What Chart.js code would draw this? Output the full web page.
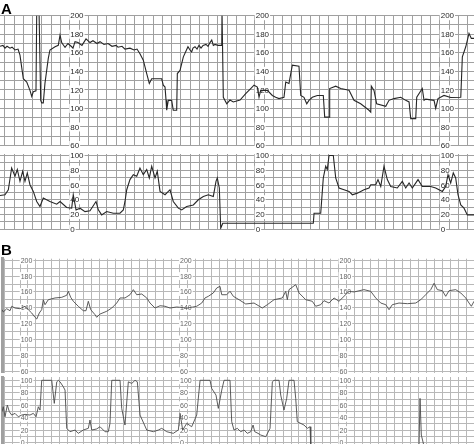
<!DOCTYPE html>
<html><head><meta charset="utf-8">
<script src="https://cdn.jsdelivr.net/npm/chart.js@4.4.0/dist/chart.umd.min.js"></script>
<style>
html,body{margin:0;padding:0;background:#fff;}
#wrap{position:relative;width:474px;height:444px;overflow:hidden;background:#fff;}
canvas{position:absolute;left:0;top:0;}
.lab{position:absolute;font:bold 15px "Liberation Sans",Arial,sans-serif;color:#000;line-height:15px;}
</style></head><body>
<div id="wrap">
<canvas id="c1" width="474" height="444" style="width:474px;height:444px"></canvas>
<canvas id="c2" width="474" height="444" style="width:474px;height:444px"></canvas>
<canvas id="c3" width="474" height="444" style="width:474px;height:444px"></canvas>
<canvas id="c4" width="474" height="444" style="width:474px;height:444px"></canvas>
<div class="lab" style="left:1px;top:1px">A</div>
<div class="lab" style="left:1px;top:242px">B</div>
</div>
<script>
// ---------- DATA (time in chart-grid squares, values in bpm / mmHg) ----------
const fhrTicks = [200,180,160,140,120,100,80,60];
const ucTicks = [100,80,60,40,20,0];

// Panel A - fetal heart rate
const aFhrT = [-0.54,-0.22,0,0.22,0.54,0.76,1.08,1.41,1.62,1.98,2.35,2.70,2.89,3.06,3.35,3.43,3.68,3.86,3.97,4.14,4.32,4.68,4.86,5.41,5.76,5.95,6.13,6.27,6.49,6.81,7.21,7.35,7.57,7.89,8.32,8.76,9.19,9.51,9.95,10.27,10.7,11.14,11.57,12.0,12.22,12.65,12.97,13.51,13.95,14.27,14.59,14.95,15.32,15.6,15.86,16.94,17.11,17.3,17.41,17.48,17.65,18.02,18.19,18.56,18.63,18.92,19.28,19.78,20.0,20.18,20.32,20.54,20.76,20.97,21.19,21.41,21.73,21.95,22.16,22.35,22.52,22.7,23.03,23.43,23.46,23.6,23.97,24.32,24.68,25.41,26.02,26.56,26.92,27.28,27.46,27.64,28.36,28.9,29.26,29.62,30.16,30.35,30.7,31.06,31.78,31.97,32.32,32.62,32.86,33.22,33.76,34.41,34.56,35.03,35.1,35.75,36.29,37.19,37.73,38.45,39.35,39.54,39.6,39.89,40.18,41.16,41.51,42.05,42.78,43.32,43.68,43.86,44.4,44.51,45.11,45.3,45.48,46.38,46.56,46.81,47.46,48.18,49.27,49.44,49.81,50.16,50.41,50.7];
const aFhrV = [167,168,165,167,165,166,163,164,157.5,132,128.5,119.5,113,118,119,205,205,108.7,106,106,127,154,163,166.5,168,179,171,169,166,170,166.5,165,172,171,168,175,171,173,170,172,169,170,167,168,166,167,164,165,163,164,159,152,137.6,127,132,132,125,123,108.7,98,108.7,108.7,98,98,137.6,141,155.6,166.5,163,161,165,166.5,164,168,165,168,169,167,171,173.7,168,169,168,168,205,112,105,109,107,109,116,121.4,125,123,112,119.5,119.5,114,112,110.6,112,128.5,127,146.6,145.5,114,112,105,108.7,112,114,114,90.6,90.6,121.4,124,121.4,119.5,108.7,105,98,96,124,119.5,105,102.3,108.7,110.6,112,108.7,107,89,89,112,121.4,108.7,110,108.7,100,110.6,114,111.7,112,155.6,166.5,181,175.5,175.5];

// Panel A - uterine contractions
const aUcT = [-0.54,0,0.36,0.72,1.08,1.33,1.62,1.91,2.16,2.41,2.7,3.06,3.43,3.78,4.14,4.86,5.59,5.95,6.67,7.21,7.38,7.68,8.11,8.65,9.19,9.84,10.09,10.45,10.99,11.71,12.43,12.79,12.97,13.16,13.51,13.87,14.24,14.59,14.95,15.32,15.6,15.86,16.22,16.46,16.76,17.3,17.84,18.19,18.74,19.1,19.64,20.36,20.9,21.44,21.98,22.52,22.81,22.95,23.17,23.32,23.54,33.33,33.41,34.13,34.41,34.67,34.84,35.03,35.49,35.75,36.11,36.65,37.19,37.55,38.09,38.81,39.35,39.54,40.08,40.32,40.62,40.97,41.33,41.7,42.41,42.95,43.32,43.68,44.03,44.65,45.11,46.02,46.56,47.28,47.64,47.89,48.18,48.46,48.72,48.97,49.27,49.62,49.98,50.7];
const aUcV = [45.8,46.8,53.6,83,71.8,81,65,78.6,65,76.4,60.4,51.3,37.7,30.8,42.3,37.7,34,37.7,29.5,28.6,46.8,26.3,28.6,24,25,37.7,26.3,19.5,24,21.8,21.8,26.3,37.7,53.6,67.3,74,71.8,83,74,81,69.6,85.4,69.6,78.6,51.3,46.8,53.6,37.7,28.6,26.3,30.8,33,40,44.5,46.8,44.5,65,69.6,56,1.4,8.2,8.2,21.8,21.8,69.6,85.4,81,100,100,69.6,56,53.6,51.3,46.8,49,53.6,56,60.4,60.4,67.3,58,85.4,67.3,58,56,65,56,62.7,56,67.3,58,58,56,51.3,58,74,62.7,76.4,69.6,46.8,33,28.6,19.5,19.5];

// Panel B - fetal heart rate
const bFhrT = [-0.26,-0.1,0.33,0.75,0.96,1.37,2.0,2.63,3.04,3.47,3.88,4.1,4.42,4.72,4.92,5.14,5.55,6.39,7.23,7.86,8.06,8.36,8.69,9.31,9.94,10.28,10.57,10.87,11.41,11.62,12.04,12.88,13.51,14.13,14.55,15.17,15.8,16.22,16.64,17.27,17.9,18.31,18.94,19.57,20.19,20.82,21.66,22.92,23.54,24.17,24.8,25.21,25.63,26.25,26.68,27.09,27.31,27.93,28.35,28.76,29.48,30.32,31.36,32.4,33.03,33.87,34.91,35.34,35.54,35.75,36.59,37.01,37.85,38.67,39.1,39.73,40.14,40.77,41.4,42.02,42.65,43.28,43.91,45.16,46.0,46.63,47.26,47.89,48.3,48.71,49.55,50.6,51.65,52.28,52.9,53.53,53.95,54.36,54.99,55.41,55.83,56.67,57.3,57.92,58.34,58.63,58.96];
const bFhrV = [137.6,134.7,138.8,136.3,141.9,139.7,138.8,141.9,137.6,133.4,128,125.8,133.4,137.6,150.2,143.9,150.2,152.4,153.2,155.8,160.8,153.2,148.2,141.9,136.3,136.3,148.2,137.6,131.3,128,132.1,135.6,139.7,146,152.4,152.4,156.5,162.9,156.5,157.4,152.4,146,139.7,142.6,141.9,139.7,141,139.7,140.6,141.9,146,152.4,154.5,158.7,165,167.1,156.5,156.5,160.8,154.5,150.2,144.8,146,139.7,143.9,150.2,152.4,160.8,150.2,162.9,169.2,158.7,150.2,148.2,141.9,143.9,149,146,152.4,148.2,154.5,160.8,160,162.9,160.8,152.4,146,143.9,137.6,143.9,146,145.2,146,150.2,156.5,162.9,171,162.9,161.6,154.5,161.6,162.9,158.7,152.4,146,141.9,148.2];

// Panel B - uterine contractions (null = no trace)
const bUcT = [-0.26,-0.1,0.12,0.41,0.66,0.96,1.37,1.79,2.21,2.63,3.25,3.67,4.01,4.3,4.51,4.72,5.98,6.3,6.61,6.81,7.02,7.43,7.65,7.86,8.27,8.9,9.31,9.94,10.57,10.78,11.0,11.62,12.04,12.66,13.08,13.29,13.51,14.55,14.76,15.17,15.59,16.02,16.43,16.72,17.06,17.9,18.73,19.36,19.78,20.41,21.23,21.86,22.08,22.41,22.92,23.54,24.17,24.59,25.84,26.05,26.59,26.88,27.31,27.6,28.35,28.56,28.85,29.27,29.69,30.11,30.52,30.95,31.24,31.45,31.86,32.2,32.83,33.37,33.66,33.87,34.5,34.71,35.12,35.46,35.75,36.38,36.59,36.79,37.63,38.05,38.39,38.48,45,52.06,52.19,52.35,52.68,55];
const bUcV = [49.6,57.6,41.6,60.3,49.6,44.3,47,41.6,44.3,45.4,44.3,47,41.6,57.6,52.3,100,100,63,97.6,100,97.6,89.6,84.3,23,17.6,20.3,15,20.3,23,36.3,20.3,22,25.6,17.6,17.6,31,100,100,55,28.3,97.6,95,100,97.6,44.3,20.3,17.6,20.3,23,17.6,15,20.3,47,20.3,31,25.6,44.3,100,100,87,76.3,55,84.3,100,100,33.6,20.3,23,17.6,20.3,15,17.6,28.3,17.6,15,12.3,9.6,23,97.6,100,100,76.3,52.3,71,100,100,71,33.6,28.3,23,25.6,-5,null,-5,71,12.3,-5,null];

// ---------- CHART SETUP ----------
const inPlotLabels = {
  id: 'inPlotLabels',
  beforeDatasetsDraw(chart, args, o) {
    const {ctx} = chart; const x = chart.scales.x, y = chart.scales.y;
    ctx.save();
    ctx.font = o.font; ctx.textBaseline = 'middle'; ctx.textAlign = 'left';
    o.cols.forEach(c => {
      const px = x.getPixelForValue(c);
      o.ticks.forEach(v => {
        const py = y.getPixelForValue(v);
        const s = String(v); const w = ctx.measureText(s).width;
        ctx.fillStyle = '#fff';
        ctx.fillRect(px - 1, py - o.h / 2 - 1, w + 2, o.h + 2);
        ctx.fillStyle = o.color;
        ctx.fillText(s, px, py + 0.5);
      });
    });
    ctx.restore();
  }
};

function range(a, b) { const r = []; for (let i = a; i <= b; i++) r.push(i); return r; }

function makeChart(id, T, V, cfg) {
  const pts = T.map((t, i) => ({x: t, y: V[i]}));
  return new Chart(document.getElementById(id), {
    type: 'line',
    data: {datasets: [{data: pts, borderColor: cfg.lineColor, borderWidth: cfg.lineWidth, pointRadius: 0, tension: 0, spanGaps: false}]},
    plugins: [inPlotLabels],
    options: {
      responsive: false, animation: false, events: [],
      layout: {padding: cfg.pad},
      plugins: {legend: {display: false}, tooltip: {enabled: false},
        inPlotLabels: {cols: cfg.cols, ticks: cfg.labelTicks, font: cfg.font, h: cfg.fontH, color: cfg.textColor}},
      scales: {
        x: {type: 'linear', min: cfg.xmin, max: cfg.xmax,
          afterBuildTicks: s => { s.ticks = range(0, Math.floor(cfg.xmax)).map(v => ({value: v})); },
          ticks: {display: false}, border: {display: false},
          grid: {color: cfg.gridColor, lineWidth: 1, drawTicks: false}},
        y: {type: 'linear', min: cfg.ymin, max: cfg.ymax,
          afterBuildTicks: s => { s.ticks = cfg.gridY.map(v => ({value: v})); },
          ticks: {display: false},
          border: cfg.border,
          grid: {color: cfg.gridColor, lineWidth: 1, drawTicks: false}}
      }
    }
  });
}

const gridFhr = range(6, 20).map(v => v * 10);
const gridUc = range(0, 10).map(v => v * 10);

const A = {xmin: -0.54, xmax: 50.7, cols: [7.05, 27.1, 47.1], gridColor: '#a0a0a0', lineColor: '#262626', lineWidth: 1.1,
  font: '8px "Liberation Sans", Arial, sans-serif', fontH: 7, textColor: '#2a2a2a', border: {display: false}};
const B = {xmin: -0.26, xmax: 58.96, cols: [2.09, 22.08, 42.09], gridColor: '#b8b8b8', lineColor: '#4a4a4a', lineWidth: 0.9,
  font: '7px "Liberation Sans", Arial, sans-serif', fontH: 6, textColor: '#666', border: {display: true, color: '#a0a0a0', width: 3}};

makeChart('c1', aFhrT, aFhrV, Object.assign({}, A, {ymin: 60, ymax: 200, gridY: gridFhr, labelTicks: fhrTicks,
  pad: {top: 15.7, bottom: 298.5, left: 0, right: 0}}));
makeChart('c2', aUcT, aUcV, Object.assign({}, A, {ymin: 0, ymax: 102, gridY: gridUc, labelTicks: ucTicks,
  pad: {top: 154, bottom: 214.7, left: 0, right: 0}}));
makeChart('c3', bFhrT, bFhrV, Object.assign({}, B, {ymin: 58, ymax: 202, gridY: gridFhr, labelTicks: fhrTicks,
  pad: {top: 258.7, bottom: 71.3, left: 2, right: 0}}));
makeChart('c4', bUcT, bUcV, Object.assign({}, B, {ymin: -2.1, ymax: 105.3, gridY: gridUc, labelTicks: ucTicks,
  pad: {top: 377, bottom: 0, left: 2, right: 0}}));
</script>
</body></html>
